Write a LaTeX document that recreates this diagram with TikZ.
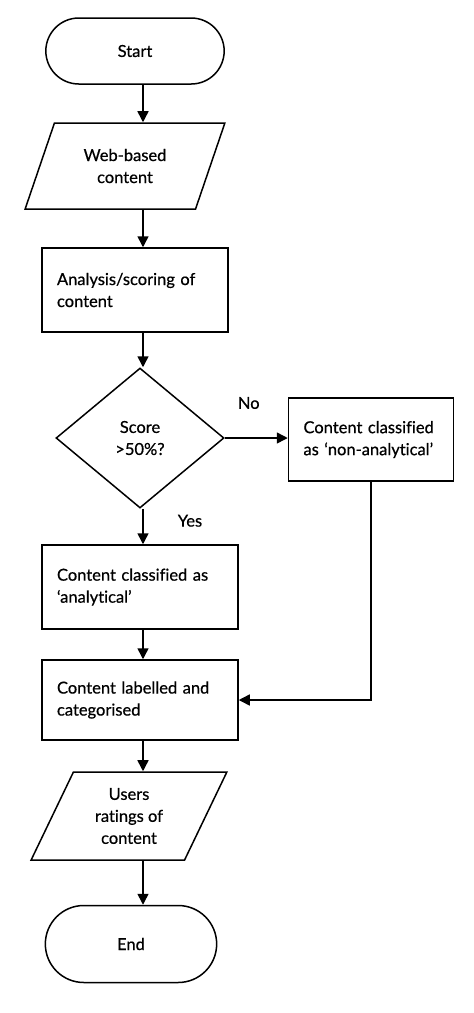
\documentclass[tikz,border=0pt]{standalone}
\usepackage{fontspec}
\setmainfont{Lato}[Ligatures=NoCommon,BoldFont=Lato,BoldFeatures={FakeBold=0.6}]
\usetikzlibrary{shapes.geometric,shapes.misc,arrows.meta,positioning}

\begin{document}
\begin{tikzpicture}[on grid,line width=1.5pt,>={Triangle[length=11pt,width=11pt]},
  font=\fontsize{16.5}{22}\selectfont\bfseries]
 \tikzstyle{term}=[draw,rounded rectangle,minimum height=66pt]
 \tikzstyle{io}=[draw,trapezium,trapezium left angle=65.6,trapezium right angle=114.4,
   trapezium stretches=true,minimum height=86pt,align=center]
 \tikzstyle{proc}=[draw,rectangle,minimum height=84pt,inner xsep=15pt,align=left]
 \tikzstyle{dec}=[draw,diamond,minimum width=168pt,minimum height=140pt,inner sep=0pt,align=center]

\useasboundingbox (0,0) rectangle (474pt,-1013pt);
\coordinate (axis) at (143pt,0);

\node[term,minimum width=185pt] (start) at (135pt,-51pt) {Start};
\node[io,minimum width=200pt] (web) [below=115pt of start,xshift=-10pt] {Web-based\\content};
\node[proc,text width=156pt] (analysis) [below=124pt of web,xshift=10pt] {Analysis/scoring of\\content};
\node[dec] (dec) [below=148pt of analysis,xshift=5pt] {Score\\>50\%?};
\node[proc,text width=135pt,minimum height=83pt] (nonan) [right=231pt of dec,yshift=-1.5pt] {Content classified\\as ‘non-analytical’};
\node[proc,text width=166pt] (anal) [below=149pt of dec] {Content classified as\\‘analytical’};
\node[proc,text width=166pt,minimum height=80pt] (label) [below=113pt of anal] {Content labelled and\\categorised};
\node[io,minimum width=196pt,minimum height=88pt] (users) [below=116pt of label,xshift=-11pt] {Users\\ratings of\\content};
\node[term,minimum width=178pt,minimum height=77pt] (end) [below=128pt of users,xshift=2pt] {End};

\node (no) at ([xshift=24pt,yshift=35pt]dec.east) {No};
\node (yes) at ([xshift=50pt,yshift=-12pt]dec.south) {Yes};

\path[->] (start.south -| axis) edge (web.north -| axis);
\path[->] (web.south -| axis) edge (analysis.north -| axis);
\path[->] (analysis.south -| axis) edge (dec.north -| axis);
\path[->] (dec.south -| axis) edge (anal.north -| axis);
\path[->] (anal.south -| axis) edge (label.north -| axis);
\path[->] (label.south -| axis) edge (users.north -| axis);
\path[->] (users.south -| axis) edge (end.north -| axis);

\path[->] (dec.east) edge (dec.east -| nonan.west);
\draw[->] (nonan.south) |- (label.east);

\end{tikzpicture}
\end{document}
